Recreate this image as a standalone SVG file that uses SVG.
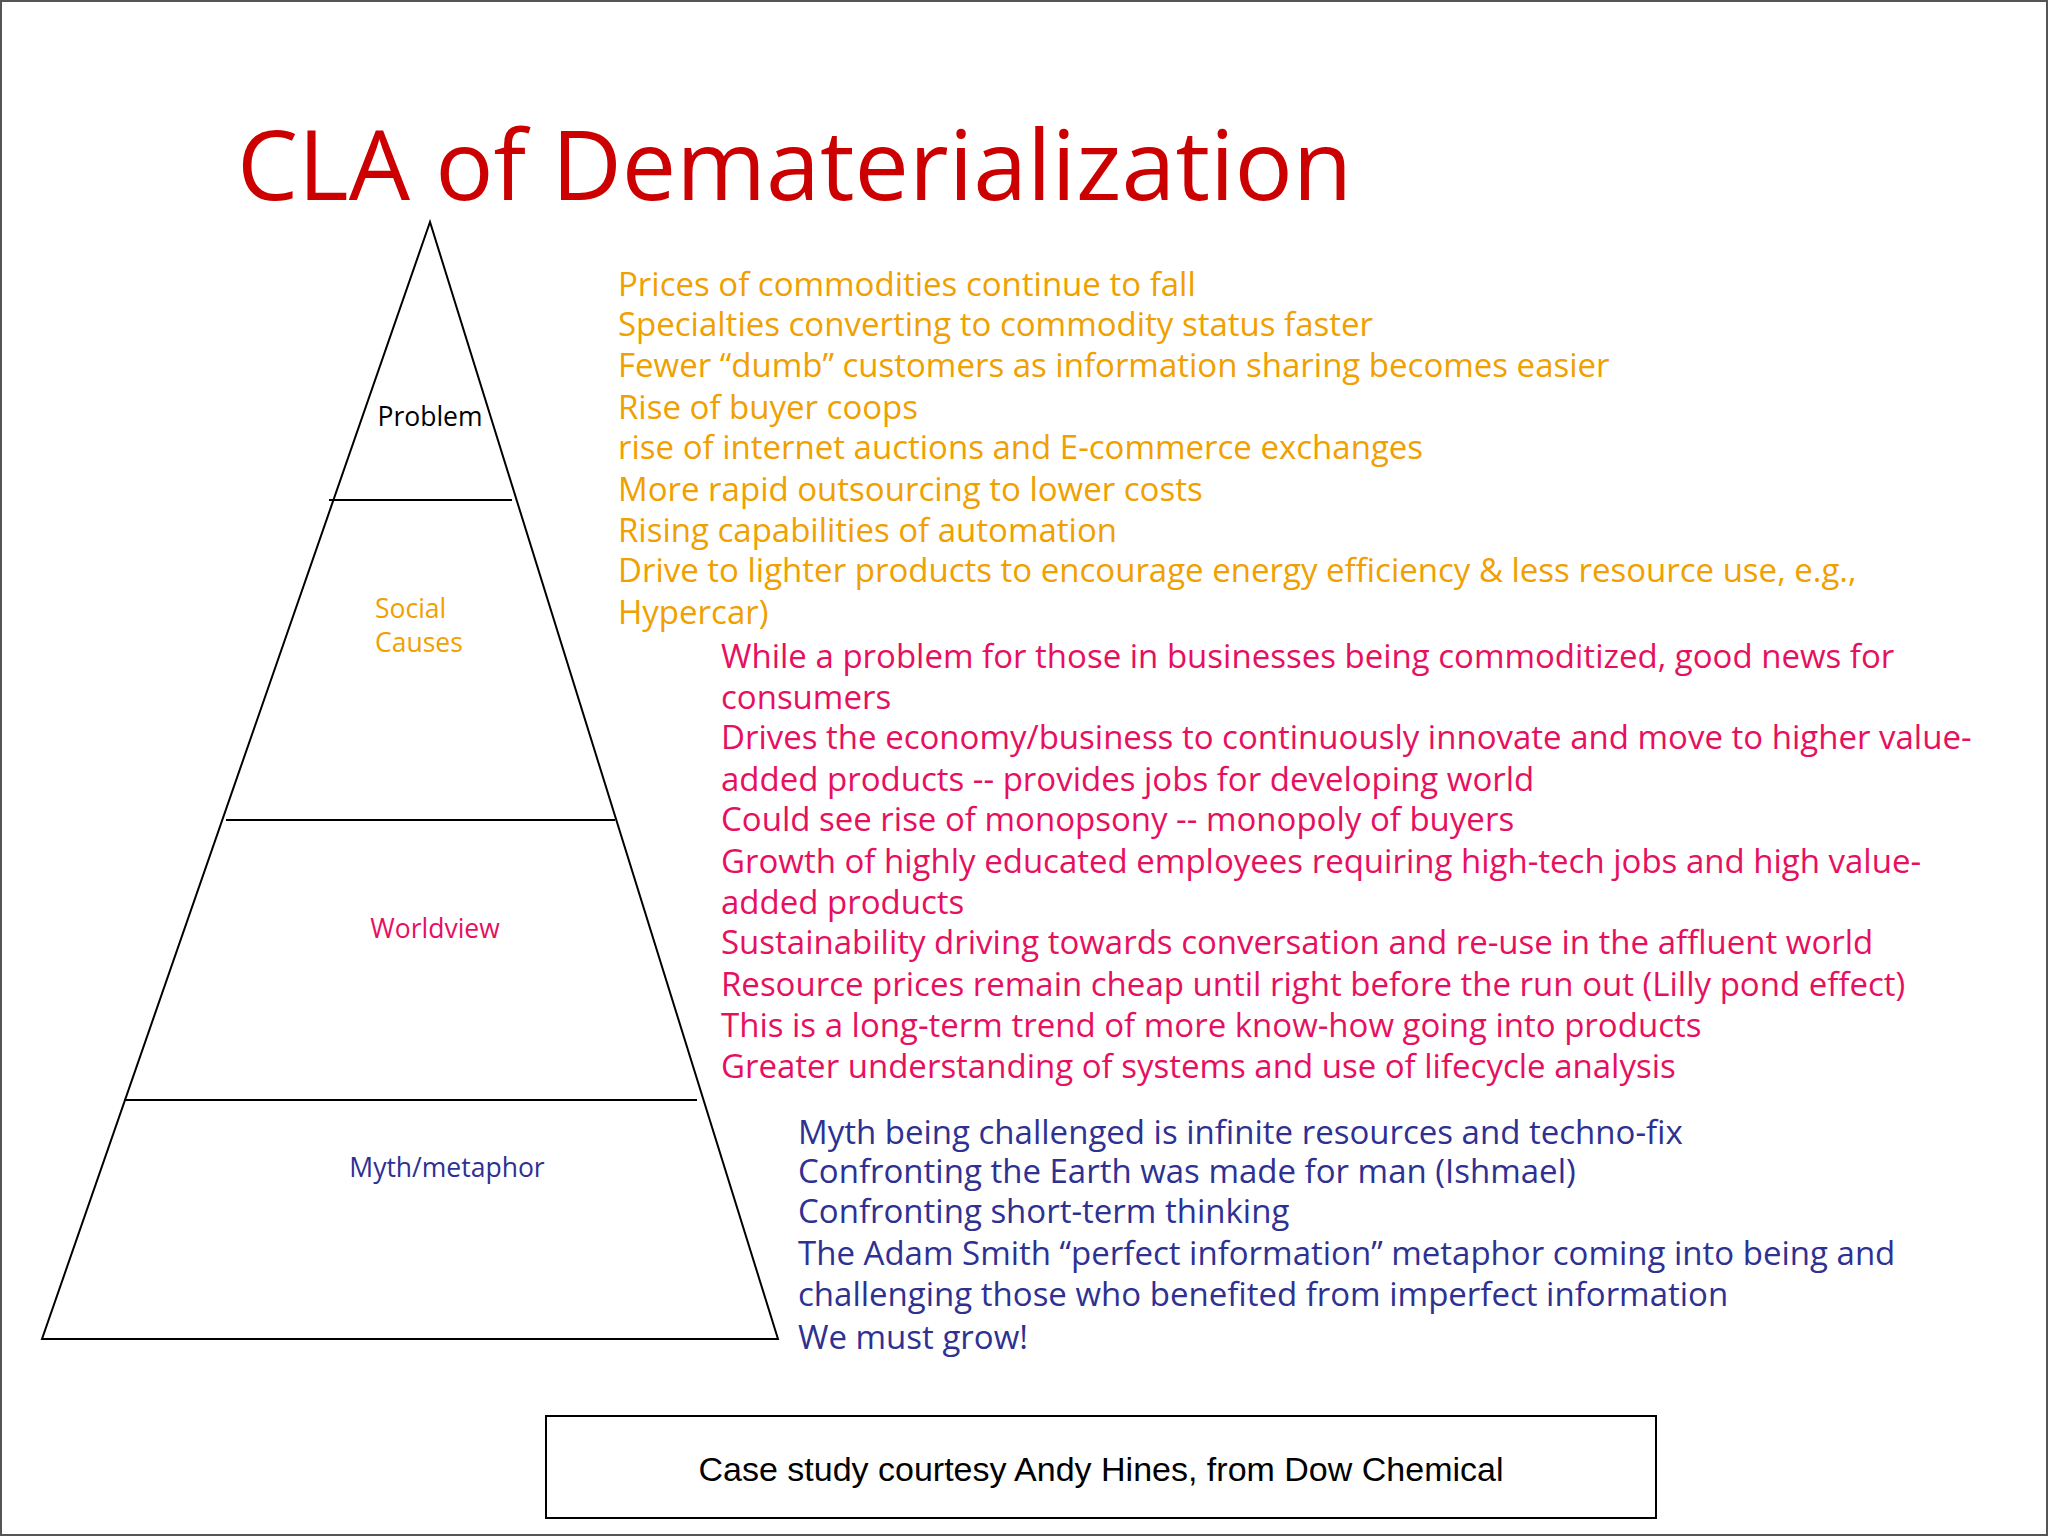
<svg xmlns="http://www.w3.org/2000/svg" width="2048" height="1536" viewBox="0 0 2048 1536">
<style>
.t{font-family:"Open Sans","DejaVu Sans",sans-serif;font-size:33px}
.o{fill:#f0a000}.c{fill:#e6105f}.n{fill:#2e3192}
.ln{stroke:#000;stroke-width:2;fill:none}
.lb{font-family:"Open Sans","DejaVu Sans",sans-serif;font-size:26.5px}
</style>
<rect x="0" y="0" width="2048" height="1536" fill="#fff"/>
<rect x="1" y="1" width="2046" height="1534" fill="none" stroke="#555" stroke-width="2"/>
<text x="237" y="200" font-family="Open Sans, DejaVu Sans, sans-serif" font-size="97" fill="#cc0000">CLA of Dematerialization</text>
<g id="pyramid">
<polygon class="ln" points="430,222 42,1339 778,1339"/>
<line class="ln" x1="329" y1="500" x2="512" y2="500"/>
<line class="ln" x1="226" y1="820" x2="615" y2="820"/>
<line class="ln" x1="124" y1="1100" x2="697" y2="1100"/>
</g>
<g id="problem"><text class="lb" x="430" y="426" text-anchor="middle" fill="#000">Problem</text></g>
<g id="social"><text class="lb o" x="375" y="618">Social</text><text class="lb o" x="375" y="652">Causes</text></g>
<g id="worldview"><text class="lb c" x="435" y="938" text-anchor="middle">Worldview</text></g>
<g id="myth"><text class="lb n" x="447" y="1177" text-anchor="middle">Myth/metaphor</text></g>
<g id="litany" class="t o">
<text x="618" y="296">Prices of commodities continue to fall</text>
<text x="618" y="336">Specialties converting to commodity status faster</text>
<text x="618" y="377">Fewer “dumb” customers as information sharing becomes easier</text>
<text x="618" y="419">Rise of buyer coops</text>
<text x="618" y="459">rise of internet auctions and E-commerce exchanges</text>
<text x="618" y="501">More rapid outsourcing to lower costs</text>
<text x="618" y="542">Rising capabilities of automation</text>
<text x="618" y="582">Drive to lighter products to encourage energy efficiency &amp; less resource use, e.g.,</text>
<text x="618" y="624">Hypercar)</text>
</g>
<g id="causes" class="t c">
<text x="721" y="668">While a problem for those in businesses being commoditized, good news for</text>
<text x="721" y="709">consumers</text>
<text x="721" y="749">Drives the economy/business to continuously innovate and move to higher value-</text>
<text x="721" y="791">added products -- provides jobs for developing world</text>
<text x="721" y="831">Could see rise of monopsony -- monopoly of buyers</text>
<text x="721" y="873">Growth of highly educated employees requiring high-tech jobs and high value-</text>
<text x="721" y="914">added products</text>
<text x="721" y="954">Sustainability driving towards conversation and re-use in the affluent world</text>
<text x="721" y="996">Resource prices remain cheap until right before the run out (Lilly pond effect)</text>
<text x="721" y="1037">This is a long-term trend of more know-how going into products</text>
<text x="721" y="1078">Greater understanding of systems and use of lifecycle analysis</text>
</g>
<g id="myths" class="t n">
<text x="798" y="1144">Myth being challenged is infinite resources and techno-fix</text>
<text x="798" y="1183">Confronting the Earth was made for man (Ishmael)</text>
<text x="798" y="1223">Confronting short-term thinking</text>
<text x="798" y="1265">The Adam Smith “perfect information” metaphor coming into being and</text>
<text x="798" y="1306">challenging those who benefited from imperfect information</text>
<text x="798" y="1349">We must grow!</text>
</g>
<g id="credit">
<rect x="546" y="1416" width="1110" height="102" fill="#fff" stroke="#000" stroke-width="2"/>
<text x="1101" y="1481" text-anchor="middle" font-family="Liberation Sans, Arial, sans-serif" font-size="34">Case study courtesy Andy Hines, from Dow Chemical</text>
</g>
</svg>
